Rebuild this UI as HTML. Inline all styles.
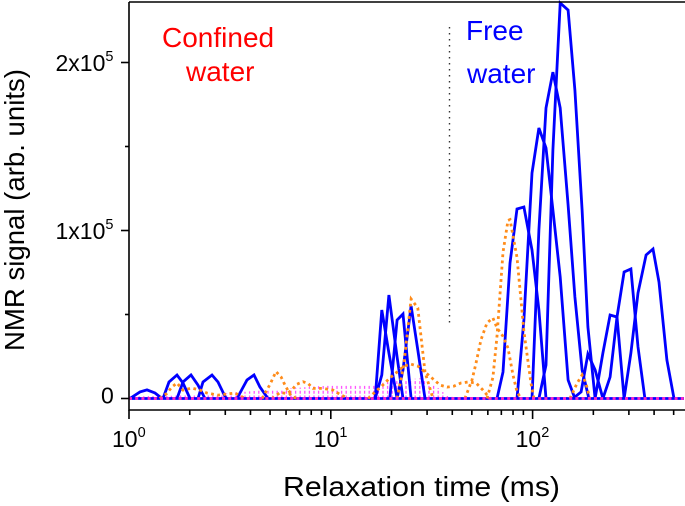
<!DOCTYPE html>
<html>
<head>
<meta charset="utf-8">
<title>NMR relaxation time distribution</title>
<style>
html,body{margin:0;padding:0;background:#fff;}
svg{display:block;}
text{font-family:"Liberation Sans",sans-serif;fill:#000;}
</style>
</head>
<body>
<svg id="chart" width="685" height="506" viewBox="0 0 685 506" xmlns="http://www.w3.org/2000/svg">
  <g id="series-layer"></g>
  <line x1="449.5" y1="27" x2="449.5" y2="323" stroke="#333" stroke-width="1.4" stroke-dasharray="1.5 4.5"/>
  <g id="axis-layer"></g>
  <text transform="translate(24,351) rotate(-90)" font-size="28" textLength="282" lengthAdjust="spacingAndGlyphs">NMR signal (arb. units)</text>
  <text x="283" y="496" font-size="28" textLength="277" lengthAdjust="spacingAndGlyphs">Relaxation time (ms)</text>
  <text x="162" y="47" font-size="28" style="fill:#ff0000">Confined</text>
  <text x="186" y="81" font-size="28" style="fill:#ff0000">water</text>
  <text x="466" y="40" font-size="28" style="fill:#0000ff">Free</text>
  <text x="467" y="83" font-size="28" style="fill:#0000ff">water</text>
</svg>
<script>
// Axis data
const xMajorTicks = [1, 10, 100];
const xExponents = [0, 1, 2];
const xMinorMultipliers = [2, 3, 4, 5, 6, 7, 8, 9];
const yMajorTicks = [0, 100000, 200000];
const yMajorLabels = ["0", "1x10", "2x10"];
const yMinorTicks = [50000, 150000];
const tauStart = 1;
const tauEnd = 560;

// Blue series: free / confined T2 distributions, [relaxation time ms], [signal]
const blue1T = [1.01, 1.134, 1.228, 1.345, 1.457];
const blue1V = [0, 3900, 5100, 3300, 0];
const blue2T = [1.474, 1.578, 1.729, 1.852, 2.006];
const blue2V = [0, 9800, 14000, 9200, 0];
const blue3T = [1.729, 1.852, 2.029, 2.197, 2.38];
const blue3V = [0, 9800, 14000, 8000, 0];
const blue4T = [2.197, 2.326, 2.578, 2.761, 3.024];
const blue4V = [0, 9800, 14000, 9800, 0];
const blue5T = [3.429, 3.843, 4.163, 4.458, 4.884];
const blue5V = [0, 11000, 14000, 6800, 0];
const blueAT = [16.6, 17.9, 19.4, 21.3];
const blueAV = [0, 52700, 27100, 0];
const blueBT = [16.6, 17.9, 19.4, 21.3, 22.8];
const blueBV = [0, 14000, 61600, 24700, 0];
const blueCT = [19.6, 21.3, 22.8, 25.0];
const blueCV = [0, 46700, 50300, 0];
const blueDT = [21.3, 22.8, 25.0, 27.0, 29.3];
const blueDV = [0, 17000, 55100, 28900, 0];
const blueET = [66.6, 71.3, 77.3, 83.7, 90.6, 99.3, 107.5, 116.5];
const blueEV = [0, 15800, 80600, 112800, 114000, 88400, 52700, 0];
const blueFT = [83.7, 90.6, 99.3, 107.5, 116.5, 126, 137, 150, 162];
const blueFV = [0, 46700, 134200, 161000, 149100, 112200, 72300, 11000, 0];
const blueGT = [99.3, 107.5, 116.5, 126, 137, 150, 162, 176, 190];
const blueGV = [0, 100300, 172900, 194300, 172900, 115200, 60400, 17000, 0];
const blueHT = [107.5, 116.5, 126, 137, 150, 162, 176, 188, 204];
const blueHV = [0, 19900, 147900, 235400, 231200, 183600, 112200, 42600, 0];
const blueJT = [158.5, 174, 188, 204, 223];
const blueJV = [0, 3900, 26500, 17000, 0];
const blueKT = [204, 223, 242, 262, 284];
const blueKV = [0, 27100, 49700, 48500, 0];
const blueLT = [223, 242, 262, 284, 307, 333, 360];
const blueLV = [0, 12800, 48500, 75300, 77100, 30700, 0];
const blueMT = [284, 307, 333, 365, 395, 423, 463, 502];
const blueMV = [0, 27100, 62800, 85400, 89000, 69300, 22900, 0];

// Orange dotted series
const orange1T = [21.3, 23.0, 25.0, 27.0, 29.3, 32.1];
const orange1V = [0, 19900, 59200, 53900, 15800, 0];
const orange2T = [15.3, 16.6, 17.9, 19.6, 21.3, 23.0, 25.0, 27.0, 29.3, 31.7, 34.8, 37.7, 40.8, 44.2, 47.9, 52.4, 56.8, 61.5];
const orange2V = [0, 3900, 7400, 12200, 15800, 19300, 20400, 19300, 15800, 12200, 8000, 6800, 7400, 9200, 9800, 9200, 5000, 0];
const orange3T = [46.2, 50.1, 52.4, 55.5, 59.4, 63.6, 66.6, 71.3, 75.5, 80, 83.7, 87.6];
const orange3V = [0, 11000, 21000, 35000, 45000, 48000, 42000, 37000, 30000, 14000, 4000, 0];
const orange4T = [59.4, 63.6, 66.6, 71.3, 75.5, 77.3, 83.7, 90.6, 98.2, 101.6];
const orange4V = [0, 12500, 37000, 87000, 106000, 106500, 84000, 40000, 9000, 0];
const orange5T = [153, 166, 176, 184, 192];
const orange5V = [0, 9000, 14000, 9000, 0];
const orange6T = [4.56, 4.99, 5.35, 5.67, 5.93, 6.35, 6.8];
const orange6V = [0, 8300, 16000, 12800, 8000, 1500, 0];
const orange7T = [5.11, 5.60, 6.07, 6.42, 6.72, 7.28, 7.71, 8.16, 9.15, 10.25, 11.1, 12.2];
const orange7V = [0, 3500, 3000, 5000, 8300, 10000, 9000, 6000, 6000, 5000, 2500, 0];
const orange8T = [1.42, 1.54, 1.63, 1.73, 1.85, 2.05, 2.25, 2.43, 2.76, 3.35, 3.76];
const orange8V = [0, 3000, 6800, 9200, 5000, 6200, 5000, 3300, 2000, 3300, 0];

// Magenta hatched envelope
const pinkT = [1, 2.25, 3.55, 5.6, 8.84, 15.6, 22, 27.7, 32.8, 37.7, 43.7];
const pinkV = [1200, 2000, 3800, 5600, 7400, 8000, 11000, 12000, 8000, 1500, 0];

const blueSeries = [
  [blue1T, blue1V], [blue2T, blue2V], [blue3T, blue3V], [blue4T, blue4V], [blue5T, blue5V],
  [blueAT, blueAV], [blueBT, blueBV], [blueCT, blueCV], [blueDT, blueDV],
  [blueET, blueEV], [blueFT, blueFV], [blueGT, blueGV], [blueHT, blueHV],
  [blueJT, blueJV], [blueKT, blueKV], [blueLT, blueLV], [blueMT, blueMV]
];
const orangeSeries = [
  [orange1T, orange1V], [orange2T, orange2V], [orange3T, orange3V], [orange4T, orange4V],
  [orange5T, orange5V], [orange6T, orange6V], [orange7T, orange7V], [orange8T, orange8V]
];

const NS = "http://www.w3.org/2000/svg";
const plotLeft = 129, plotRight = 684, plotTop = 2, plotBottom = 410;
function xScale(t) { return 129 + 201.8 * Math.log10(t); }
function yScale(v) { return 398.5 - v / 100000 * 168; }

function make(tag, attrs, parent) {
  const el = document.createElementNS(NS, tag);
  for (const k in attrs) el.setAttribute(k, attrs[k]);
  parent.appendChild(el);
  return el;
}
function linePoints(ts, vs) {
  return ts.map((t, i) => xScale(t).toFixed(1) + "," + yScale(vs[i]).toFixed(1)).join(" ");
}

const seriesLayer = document.getElementById("series-layer");
const axisLayer = document.getElementById("axis-layer");

// Magenta hatching from envelope array
function pinkAt(t) {
  const lt = Math.log10(t);
  for (let i = 0; i < pinkT.length - 1; i++) {
    const a = Math.log10(pinkT[i]), b = Math.log10(pinkT[i + 1]);
    if (lt >= a && lt <= b) return pinkV[i] + (pinkV[i + 1] - pinkV[i]) * (lt - a) / (b - a);
  }
  return 0;
}
let hatch = "";
for (let px = plotLeft + 1; px < 470; px += 4.6) {
  const t = Math.pow(10, (px - 129) / 201.8);
  hatch += "M" + px.toFixed(1) + " " + yScale(0) + "V" + yScale(pinkAt(t)).toFixed(1);
}
const hatchEl = make("path", { d: hatch, fill: "none", stroke: "#ff55ff", "stroke-width": 1.3, "stroke-dasharray": "3 1.8" }, seriesLayer);



const blueBase = make("line", { x1: plotLeft, x2: plotRight, y1: yScale(0), y2: yScale(0), stroke: "#0000ff", "stroke-width": 2.8 }, seriesLayer);



blueSeries.forEach(s => {
  const el = make("polyline", { points: linePoints(s[0], s[1]), fill: "none", stroke: "#0000ff", "stroke-width": 2.8, "stroke-linejoin": "miter" }, seriesLayer);
  
  
});
orangeSeries.forEach(s => {
  const el = make("polyline", { points: linePoints(s[0], s[1]), fill: "none", stroke: "#ff8c1a", "stroke-width": 2.8, "stroke-dasharray": "2.8 3.4" }, seriesLayer);
  
  
});
const zeroLine = make("line", { x1: plotLeft, x2: plotRight, y1: yScale(0), y2: yScale(0), stroke: "#ff22cc", "stroke-width": 2.8, "stroke-dasharray": "3 3.2" }, seriesLayer);



// Axes
const frameStyle = { stroke: "#000", "stroke-width": 1.6 };
const spine = make("path", { d: "M" + plotLeft + " " + plotTop + "H685M" + plotLeft + " " + plotTop + "V" + plotBottom + "H685", fill: "none", stroke: "#000", "stroke-width": 1.6 }, axisLayer);



xMajorTicks.forEach((t, i) => {
  const x = xScale(t);
  const tick = make("line", Object.assign({ x1: x, x2: x, y1: plotBottom, y2: plotBottom + 9 }, frameStyle), axisLayer);
  
  
  const lab = make("text", { x: x - 17, y: 447, "font-size": 23 }, axisLayer);
  
  
  lab.textContent = "10";
  const sup = make("tspan", { dy: -10, "font-size": 14.5 }, lab);
  sup.textContent = String(xExponents[i]);
  xMinorMultipliers.forEach(m => {
    const mx = xScale(t * m);
    if (mx > plotRight) return;
    const mt = make("line", Object.assign({ x1: mx, x2: mx, y1: plotBottom, y2: plotBottom + 5 }, frameStyle), axisLayer);
    
    
  });
});

yMajorTicks.forEach((v, i) => {
  const y = yScale(v);
  const tick = make("line", Object.assign({ x1: plotLeft - 8, x2: plotLeft, y1: y, y2: y }, frameStyle), axisLayer);
  
  
  const lab = make("text", { x: i === 0 ? 101 : 55.5, y: i === 0 ? y + 5 : y + 8.3, "font-size": 23 }, axisLayer);
  
  
  lab.textContent = yMajorLabels[i];
  if (i > 0) {
    const sup = make("tspan", { dy: -10, "font-size": 14.5 }, lab);
    sup.textContent = "5";
  }
});
yMinorTicks.forEach(v => {
  const y = yScale(v);
  const mt = make("line", Object.assign({ x1: plotLeft - 4, x2: plotLeft, y1: y, y2: y }, frameStyle), axisLayer);
  
  
});
</script>
</body>
</html>
